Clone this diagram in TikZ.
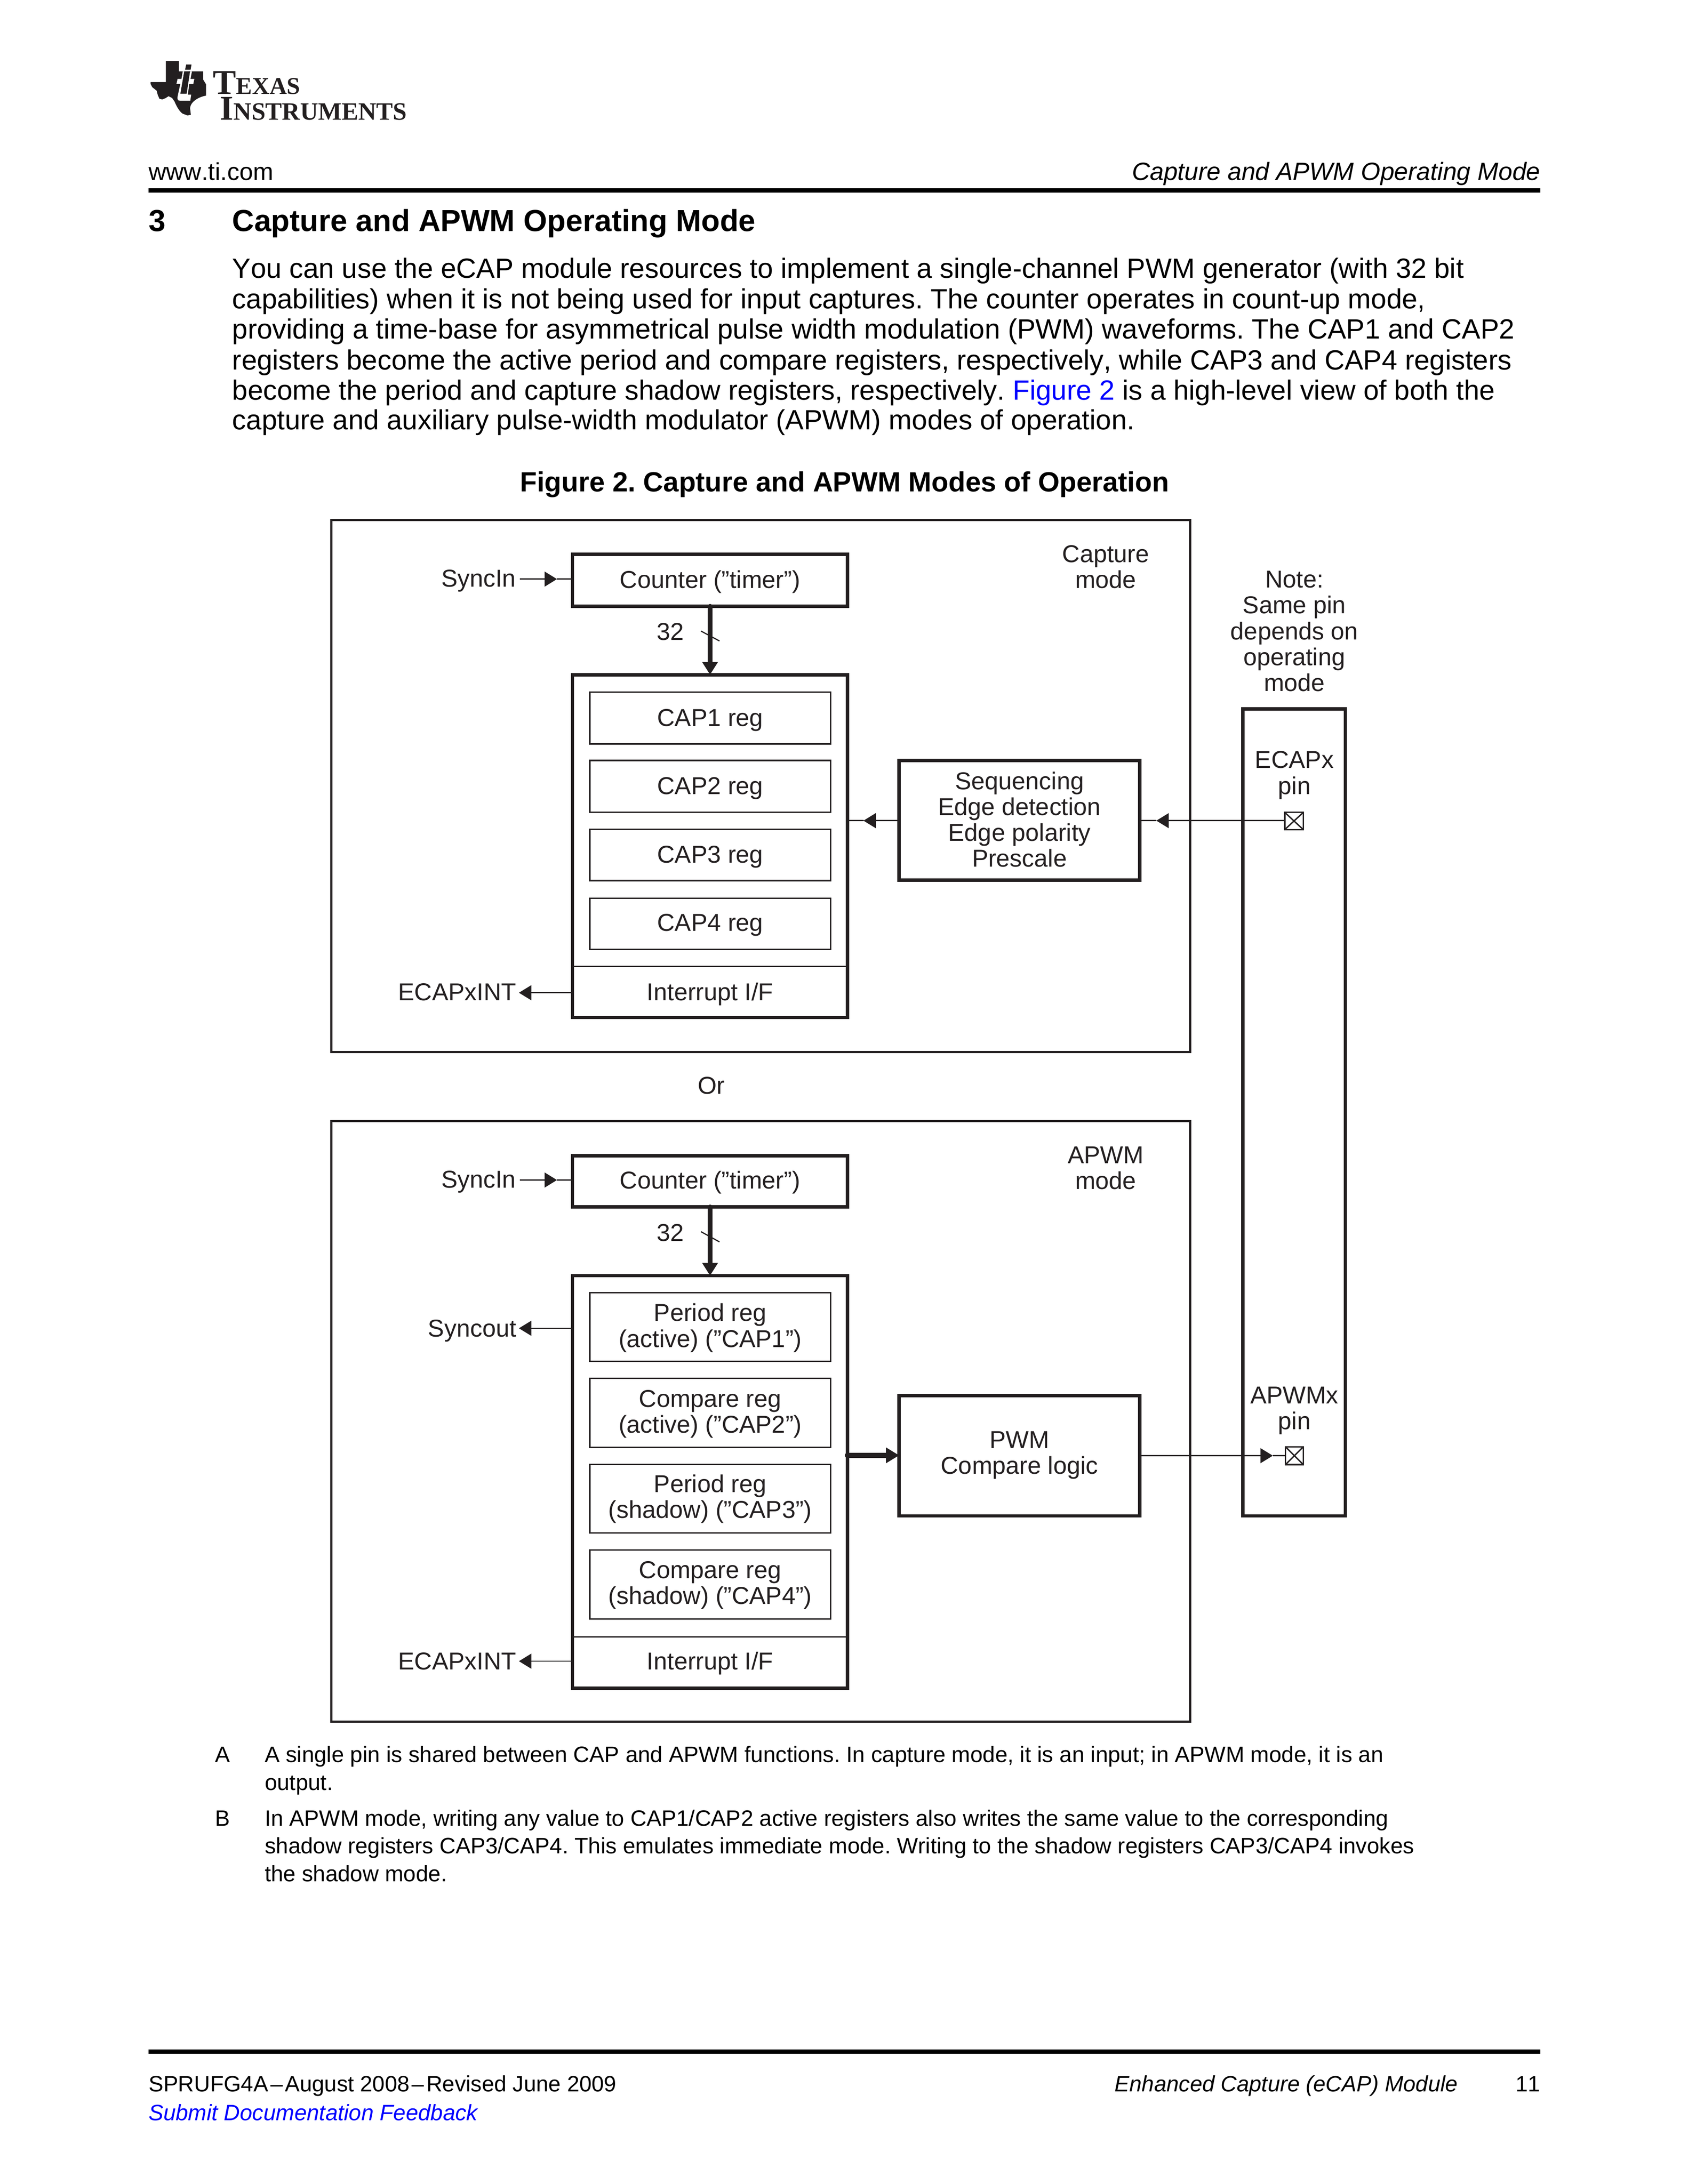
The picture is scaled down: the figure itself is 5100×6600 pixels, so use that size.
\documentclass[tikz,border=0pt]{standalone}
\usepackage{fontspec}
\setmainfont[Kerning=Off]{Liberation Sans}
\newfontfamily\logofont{Liberation Serif}
\usetikzlibrary{arrows.meta}
\definecolor{ink}{HTML}{231F20}
\definecolor{linkblue}{HTML}{0000FF}
\newcommand{\fs}[1]{\fontsize{#1bp}{#1bp}\selectfont}
% box node given by its edges and the baseline of its last text line (all in pixels)
\newcommand{\pxbox}[8]{%
  \pgfmathsetmacro\myCx{(#3+#5)/2}%
  \pgfmathsetmacro\myCy{(#4+#6)/2}%
  \pgfmathsetmacro\myW{(#5-#3)*0.12}%
  \pgfmathsetmacro\myH{(#6-#4)*0.12}%
  \pgfmathsetmacro\myOff{2*(#7-\myCy)*0.12}%
  \pgfmathsetmacro\myTh{max(\myOff,0)}%
  \pgfmathsetmacro\myTd{max(-\myOff,0)}%
  \node[#1,minimum width=\myW bp,minimum height=\myH bp,text height=\myTh bp,text depth=\myTd bp] (#2) at (\myCx,\myCy) {#8};%
}
\tikzset{
  x=0.12bp,y=-0.12bp,
  every node/.style={inner sep=0pt,outer sep=0pt},
  diafont/.style={font=\frenchspacing\fontsize{8.85bp}{9.38bp}\selectfont,text=ink,align=center},
  framebox/.style={draw=ink,line width=0.78bp,line join=miter},
  thickbox/.style={draw=ink,line width=1.22bp,diafont,line join=miter},
  regbox/.style={draw=ink,line width=0.5bp,diafont,line join=miter},
  plainbox/.style={diafont},
  pinbox/.style={draw=ink,line width=0.5bp},
  dia/.style={diafont,anchor=base},
  diaright/.style={diafont,anchor=base east},
  wire/.style={draw=ink,line width=0.42bp},
  wirehead/.style={wire,-{Triangle[length=4.5bp,width=5.4bp,fill=ink]}},
  bus/.style={draw=ink,line width=1.68bp,line cap=round},
  bushead/.style={bus,-{Triangle[length=4.6bp,width=5.4bp,fill=ink]}},
  fatbus/.style={draw=ink,line width=2bp,line cap=round,-{Triangle[length=4.8bp,width=5.4bp,fill=ink]}},
  rule/.style={draw=black,line width=1.55bp},
  page/.style={anchor=base west,text=black},
  pagee/.style={anchor=base east,text=black},
  body/.style={page,font=\frenchspacing\fs{10.08}},
  note/.style={page,font=\frenchspacing\fs{8.09}},
  small/.style={page,font=\fs{8.85}},
}
\begin{document}
\begin{tikzpicture}
\useasboundingbox (0,0) rectangle (5100,6600);
\fill[white] (0,0) rectangle (5100,6600);

% ---- logo
\begin{scope}[shift={(440,170)},x=0.04bp,y=-0.04bp]
\fill[ink] (183,44) -- (302,44) -- (302,137) -- (522,137) -- (522,212) -- (548,255) -- (548,357)
  .. controls (470,370) and (405,420) .. (403,470) -- (410,530) -- (380,537) -- (335,520)
  .. controls (300,495) and (275,440) .. (262,410) -- (240,378) -- (208,362) -- (180,380)
  -- (150,392) -- (125,385) -- (110,350) -- (100,312) -- (60,280) -- (45,250) -- (45,234) -- (183,234) -- cycle;
\fill[white] (337,137) -- (420,137) -- (407,205) -- (442,205) -- (432,252) -- (395,252) -- (383,348)
  -- (413,348) -- (405,403) -- (310,403) .. controls (292,403) and (286,390) .. (290,365)
  -- (315,250) -- (280,250) -- (290,205) -- (325,205) -- cycle;
\fill[ink] (350,137) -- (403,137) -- (372,340) -- (315,340) -- cycle;
\fill[ink] (368,75) -- (416,75) -- (408,122) -- (358,122) -- cycle;
\end{scope}
\node[anchor=base west,text=ink] (logoa) at (644,284) {\logofont\bfseries\fs{12.6}T\fs{8.7}EXAS};
\node[anchor=base west,text=ink] (logob) at (665,362) {\logofont\bfseries\fs{12.6}I\fs{9.05}NSTRUMENTS};

% ---- header
\node[small] (hl) at (449,544) {www.ti.com};
\node[pagee,font=\fs{9.06}\itshape] (hr) at (4654,544) {Capture and APWM Operating Mode};
\coordinate (ruleAl) at (449,576); \coordinate (ruleAr) at (4654,576);
\draw[rule] (ruleAl) -- (ruleAr);

% ---- section
\node[page,font=\fs{11.05}\bfseries] (secn) at (449,699) {3};
\node[page,font=\fs{11.05}\bfseries] (sect) at (702,699) {Capture and APWM Operating Mode};
\node[body] (p1) at (702,840) {You can use the eCAP module resources to implement a single-channel PWM generator (with 32 bit};
\node[body] (p2) at (702,932) {capabilities) when it is not being used for input captures. The counter operates in count-up mode,};
\node[body] (p3) at (702,1024) {providing a time-base for asymmetrical pulse width modulation (PWM) waveforms. The CAP1 and CAP2};
\node[body] (p4) at (702,1117) {registers become the active period and compare registers, respectively, while CAP3 and CAP4 registers};
\node[body] (p5) at (702,1208) {become the period and capture shadow registers, respectively. {\color{linkblue}Figure 2} is a high-level view of both the};
\node[body] (p6) at (702,1298) {capture and auxiliary pulse-width modulator (APWM) modes of operation.};
\node[anchor=base,text=black,font=\frenchspacing\fs{10.06}\bfseries] (figcap) at (2552,1486) {Figure 2. Capture and APWM Modes of Operation};

% ---- capture mode
\pxbox{framebox}{capframe}{1001}{1572}{3596}{3179}{2400}{}
\pxbox{thickbox}{counterA}{1730}{1675}{2561}{1832}{1777}{Counter (”timer”)}
\pxbox{thickbox}{stackA}{1730}{2039}{2561}{3075}{2500}{}
\pxbox{regbox}{capa}{1782}{2091}{2510}{2248}{2194}{CAP1 reg}
\pxbox{regbox}{capb}{1782}{2298}{2510}{2455}{2400}{CAP2 reg}
\pxbox{regbox}{capc}{1782}{2506}{2510}{2661}{2608}{CAP3 reg}
\pxbox{regbox}{capd}{1782}{2714}{2510}{2869}{2814}{CAP4 reg}
\pxbox{plainbox}{ifaceA}{1730}{2920}{2561}{3075}{3023}{Interrupt I/F}
\draw[regbox] (ifaceA.north west) -- (ifaceA.north east);
\pxbox{thickbox}{seq}{2717}{2298}{3444}{2660}{2620}{Sequencing\\Edge detection\\Edge polarity\\Prescale}
\node[dia] (capmode) at (3341,1778) {Capture\\mode};
\node[dia] (notetxt) at (3911,2089) {Note:\\Same pin\\depends on\\operating\\mode};
\node[diaright] (syncA) at (1559,1773) {SyncIn};
\node[dia] (busA) at (2026,1934) {32};
\node[diaright] (intA) at (1560,3023) {ECAPxINT};

% ---- shared pin column
\pxbox{thickbox}{pincol}{3755}{2142}{4065}{4581}{2400}{}
\node[dia] (ecappin) at (3911,2400) {ECAPx\\pin};
\pxbox{pinbox}{pinA}{3882}{2455}{3938}{2507}{2481}{}
\draw[regbox] (pinA.north west) -- (pinA.south east) (pinA.north east) -- (pinA.south west);

% connectors, capture
\coordinate (syncAend) at (1571,1750);
\coordinate (syncAtip) at (1683,1750);
\draw[wirehead] (syncAend) -- (syncAtip);
\draw[wire] (syncAtip) -- (syncAtip -| counterA.west);
\draw[bushead] (counterA.south) -- (stackA.north);
\coordinate (tickAa) at (2118,1907); \coordinate (tickAb) at (2174,1937);
\draw[wire] (tickAa) -- (tickAb);
\coordinate (intAtip) at (1568,3000);
\draw[wirehead] (intAtip -| stackA.west) -- (intAtip);
\coordinate (seqtip) at (2609,2480);
\draw[wirehead] (seq.west |- seqtip) -- (seqtip);
\draw[wire] (seqtip) -- (seqtip -| stackA.east);
\coordinate (pintip) at (3494,2480);
\draw[wirehead] (pinA.west |- pintip) -- (pintip);
\draw[wire] (pintip) -- (pintip -| seq.east);

% ---- or
\node[dia] (ortxt) at (2149,3306) {Or};

% ---- APWM mode
\pxbox{framebox}{apwmframe}{1001}{3388}{3596}{5203}{4000}{}
\pxbox{thickbox}{counterB}{1730}{3493}{2561}{3647}{3592}{Counter (”timer”)}
\pxbox{thickbox}{stackB}{1730}{3855}{2561}{5102}{4500}{}
\pxbox{regbox}{rega}{1782}{3906}{2510}{4114}{4071}{Period reg\\(active) (”CAP1”)}
\pxbox{regbox}{regb}{1782}{4165}{2510}{4374}{4330}{Compare reg\\(active) (”CAP2”)}
\pxbox{regbox}{regc}{1782}{4425}{2510}{4633}{4588}{Period reg\\(shadow) (”CAP3”)}
\pxbox{regbox}{regd}{1782}{4684}{2510}{4892}{4848}{Compare reg\\(shadow) (”CAP4”)}
\pxbox{plainbox}{ifaceB}{1730}{4947}{2561}{5102}{5046}{Interrupt I/F}
\draw[regbox] (ifaceB.north west) -- (ifaceB.north east);
\pxbox{thickbox}{pwm}{2717}{4217}{3444}{4581}{4454}{PWM\\Compare logic}
\node[dia] (apwmmode) at (3341,3594) {APWM\\mode};
\node[diaright] (syncB) at (1559,3590) {SyncIn};
\node[dia] (busB) at (2026,3751) {32};
\node[diaright] (syncoutB) at (1560,4040) {Syncout};
\node[diaright] (intB) at (1560,5046) {ECAPxINT};
\node[dia] (apwmpin) at (3911,4320) {APWMx\\pin};
\pxbox{pinbox}{pinB}{3884}{4372}{3938}{4426}{4399}{}
\draw[regbox] (pinB.north west) -- (pinB.south east) (pinB.north east) -- (pinB.south west);

% connectors, APWM
\coordinate (syncBend) at (1571,3566);
\coordinate (syncBtip) at (1683,3566);
\draw[wirehead] (syncBend) -- (syncBtip);
\draw[wire] (syncBtip) -- (syncBtip -| counterB.west);
\draw[bushead] (counterB.south) -- (stackB.north);
\coordinate (tickBa) at (2118,3722); \coordinate (tickBb) at (2174,3753);
\draw[wire] (tickBa) -- (tickBb);
\coordinate (syncouttip) at (1568,4014);
\draw[wirehead] (syncouttip -| stackB.west) -- (syncouttip);
\coordinate (intBtip) at (1568,5020);
\draw[wirehead] (intBtip -| stackB.west) -- (intBtip);
\coordinate (pwmin) at (2561,4398);
\draw[fatbus] (pwmin) -- (pwmin -| pwm.west);
\coordinate (pwmtip) at (3846,4399);
\draw[wirehead] (pwm.east |- pwmtip) -- (pwmtip);
\draw[wire] (pwmtip) -- (pwmtip -| pinB.west);

% ---- notes
\node[note] (na) at (650,5326) {A};
\node[note] (nat) at (800,5326) {A single pin is shared between CAP and APWM functions. In capture mode, it is an input; in APWM mode, it is an};
\node[note] (nat2) at (800,5410) {output.};
\node[note] (nb) at (650,5518) {B};
\node[note] (nbt) at (800,5518) {In APWM mode, writing any value to CAP1/CAP2 active registers also writes the same value to the corresponding};
\node[note] (nbt2) at (800,5602) {shadow registers CAP3/CAP4. This emulates immediate mode. Writing to the shadow registers CAP3/CAP4 invokes};
\node[note] (nbt3) at (800,5686) {the shadow mode.};

% ---- footer
\coordinate (ruleBl) at (449,6200); \coordinate (ruleBr) at (4654,6200);
\draw[rule] (ruleBl) -- (ruleBr);
\node[page,font=\fs{8.05}] (fa) at (449,6321) {SPRUFG4A\kern0.8pt–\kern0.8pt August 2008\kern0.8pt–\kern0.8pt Revised June 2009};
\node[page,font=\fs{8.07}\itshape,text=linkblue] (fb) at (449,6408) {Submit Documentation Feedback};
\node[pagee,font=\fs{8.05}\itshape] (fc) at (4405,6321) {Enhanced Capture (eCAP) Module};
\node[pagee,font=\fs{8.05}] (fd) at (4654,6321) {11};
\end{tikzpicture}
\end{document}
